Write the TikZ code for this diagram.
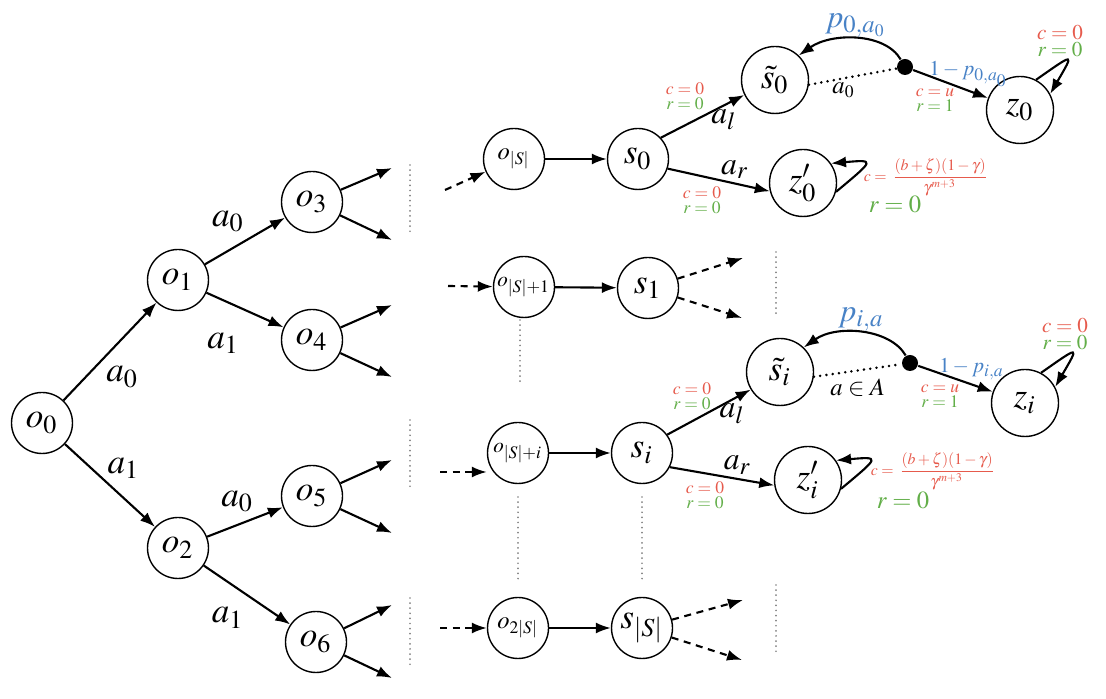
\documentclass[tikz,border=0pt]{standalone}
\usepackage{amsmath}
\usepackage{mathptmx}
\usetikzlibrary{arrows.meta}
\definecolor{cred}{RGB}{230,90,76}
\definecolor{cgreen}{RGB}{98,174,72}
\definecolor{cblue}{RGB}{72,130,198}
\begin{document}
\begin{tikzpicture}[
        >={Latex[length=1.5mm,width=1.1mm]},
        state/.style={circle,draw,thin,minimum size=0.61cm,inner sep=0pt},
        bigstate/.style={circle,draw,thin,minimum size=0.67cm,inner sep=0pt},
        arr/.style={->,semithick},
        dasharr/.style={->,semithick,dash pattern=on 2pt off 1.6pt},
        actline/.style={thick,line cap=round,dash pattern=on 0pt off 1.8pt},
        vdots/.style={gray,line width=0.55pt,line cap=round,dash pattern=on 0pt off 1.45pt},
        dot/.style={circle,fill,inner sep=0pt,minimum size=0.16cm},
        lbl/.style={inner sep=1pt},
        cr/.style={inner sep=0pt,align=center,font=\fontsize{5}{4.2}\selectfont},
        crz/.style={inner sep=0pt,align=center,font=\fontsize{6}{4.9}\selectfont},
        frac/.style={inner sep=0pt,text=cred,font=\fontsize{4.5}{5}\selectfont}
    ]
    \useasboundingbox (0,0) rectangle (11.06,6.99);
    % Tree o_0 ... o_6
    \draw (0.42,2.76) node[state] (o0) {$o_0$};
    \draw (1.78,4.19) node[state] (o1) {$o_1$};
    \draw (1.78,1.51) node[state] (o2) {$o_2$};
    \draw (3.12,4.97) node[state] (o3) {$o_3$};
    \draw (3.12,3.59) node[state] (o4) {$o_4$};
    \draw (3.12,2.03) node[state] (o5) {$o_5$};
    \draw (3.16,0.57) node[state] (o6) {$o_6$};
    \draw [arr] (o0) -- node [lbl,pos=0.24,right=0.16cm] (e01) {$a_0$} (o1);
    \draw [arr] (o0) -- node [lbl,pos=0.29,right=0.12cm] (e02) {$a_1$} (o2);
    \draw [arr] (o1) -- node [lbl,pos=0.29,above=0.14cm] (e13) {$a_0$} (o3);
    \draw [arr] (o1) -- node [lbl,pos=0.22,below=0.28cm] (e14) {$a_1$} (o4);
    \draw [arr] (o2) -- node [lbl,pos=0.40,above=0.08cm] (e25) {$a_0$} (o5);
    \draw [arr] (o2) -- node [lbl,pos=0.28,below=0.21cm] (e26) {$a_1$} (o6);
    % open branches
    \coordinate (o3u) at (3.92,5.31);
    \coordinate (o3d) at (3.92,4.59);
    \coordinate (o4u) at (3.92,3.94);
    \coordinate (o4d) at (3.92,3.22);
    \coordinate (o5u) at (3.92,2.39);
    \coordinate (o5d) at (3.92,1.66);
    \coordinate (o6u) at (3.92,0.94);
    \coordinate (o6d) at (3.92,0.21);
    \draw [arr] (o3) -- (o3u);
    \draw [arr] (o3) -- (o3d);
    \draw [arr] (o4) -- (o4u);
    \draw [arr] (o4) -- (o4d);
    \draw [arr] (o5) -- (o5u);
    \draw [arr] (o5) -- (o5d);
    \draw [arr] (o6) -- (o6u);
    \draw [arr] (o6) -- (o6d);
    \draw [vdots] (4.10,5.34) -- (4.10,4.66);
    \draw [vdots] (4.10,2.79) -- (4.10,2.09);
    \draw [vdots] (4.10,1.01) -- (4.10,0.31);
    % Chains o_{|S|+i} -> s_i
    \draw (5.14,5.40) node[state,font=\scriptsize] (oS) {$o_{|S|}$};
    \draw (6.38,5.40) node[state] (s0) {$s_0$};
    \draw (5.24,4.12) node[state,font=\fontsize{6}{7}\selectfont] (oS1) {$o_{|S|+1}$};
    \draw (6.48,4.11) node[state] (s1) {$s_1$};
    \draw (5.18,2.46) node[state,font=\fontsize{6}{7}\selectfont] (oSi) {$o_{|S|+i}$};
    \draw (6.42,2.46) node[state] (si) {$s_i$};
    \draw (5.18,0.71) node[state,font=\scriptsize] (o2S) {$o_{2|S|}$};
    \draw (6.42,0.71) node[state] (sS) {$s_{|S|}$};
    \draw [arr] (oS) -- (s0);
    \draw [arr] (oS1) -- (s1);
    \draw [arr] (oSi) -- (si);
    \draw [arr] (o2S) -- (sS);
    \coordinate (inS) at (4.45,5.09);
    \coordinate (inS1) at (4.48,4.13);
    \coordinate (inSi) at (4.40,2.27);
    \coordinate (in2S) at (4.40,0.71);
    \draw [dasharr] (inS) -- (oS);
    \draw [dasharr] (inS1) -- (oS1);
    \draw [dasharr] (inSi) -- (inSi -| oSi.west);
    \draw [dasharr] (in2S) -- (o2S);
    \coordinate (s1u) at (7.43,4.41);
    \coordinate (s1d) at (7.42,3.81);
    \coordinate (sSu) at (7.43,0.99);
    \coordinate (sSd) at (7.42,0.39);
    \draw [dasharr] (s1) -- (s1u);
    \draw [dasharr] (s1) -- (s1d);
    \draw [dasharr] (sS) -- (sSu);
    \draw [dasharr] (sS) -- (sSd);
    \draw [vdots] (7.76,4.47) -- (7.76,3.82);
    \draw [vdots] (7.76,1.14) -- (7.76,0.47);
    \draw [vdots] (5.20,3.79) -- (5.20,3.14);
    \draw [vdots] (5.18,2.02) -- (5.18,1.16);
    \draw [vdots] (6.42,2.02) -- (6.42,1.16);
    % Gadget of s_0
    \draw (7.75,6.19) node[bigstate] (s0t) {$\tilde{s}_0$};
    \draw (10.20,5.89) node[bigstate] (z0) {$z_0$};
    \draw (8.03,5.16) node[bigstate] (z0p) {$z'_0$};
    \node [dot] (d0) at (9.05,6.32) {};
    \draw [arr] (s0.43) -- node [lbl,pos=0.76,below,font=\small] (al0) {$a_l$} (s0t.206);
    \draw [arr] (s0.-18) -- node [lbl,pos=0.66,above,font=\small] (ar0) {$a_r$} (z0p.194);
    \draw [actline] (s0t.-8) -- node [lbl,pos=0.4,below,font=\scriptsize] (act0) {$a_0$} (d0);
    \draw [arr] (d0) .. controls +(120:0.4) and +(35:0.4) .. node [lbl,above=-1pt,font=\small,text=cblue] (p0) {$p_{0,a_0}$} (s0t.46);
    \draw [arr] (d0) -- node [lbl,pos=0.75,above,font=\fontsize{6}{7}\selectfont,text=cblue] (q0) {$1-p_{0,a_0}$} (z0);
    \draw [arr] (z0.62) .. controls +(35:0.48) and +(60:0.48) .. (z0.28);
    \draw [arr] (z0p.-15) .. controls +(40:0.5) and +(5:0.45) .. (z0p.35);
    \node [cr] (cl0) at (6.85,6.03) {\textcolor{cred}{$c=0$}\\\textcolor{cgreen}{$r=0$}};
    \node [cr] (cr0) at (7.02,4.99) {\textcolor{cred}{$c=0$}\\\textcolor{cgreen}{$r=0$}};
    \node [cr] (cu0) at (9.35,5.99) {\textcolor{cred}{$c=u$}\\\textcolor{cgreen}{$r=1$}};
    \node [crz] (cz0) at (10.60,6.58) {\textcolor{cred}{$c=0$}\\\textcolor{cgreen}{$r=0$}};
    \node [frac] (cf0) at (9.27,5.22) {$c=\dfrac{(b+\zeta)(1-\gamma)}{\gamma^{m+3}}$};
    \node [inner sep=0pt,font=\scriptsize,text=cgreen] (rf0) at (8.95,4.95) {$r=0$};
    % Gadget of s_i
    \draw (7.80,3.27) node[bigstate] (sit) {$\tilde{s}_i$};
    \draw (10.25,2.96) node[bigstate] (zi) {$z_i$};
    \draw (8.08,2.19) node[bigstate] (zip) {$z'_i$};
    \node [dot] (di) at (9.10,3.36) {};
    \draw [arr] (si.36) -- node [lbl,pos=0.78,below,font=\small] (ali) {$a_l$} (sit.211);
    \draw [arr] (si.-27) -- node [lbl,pos=0.65,above,font=\small] (ari) {$a_r$} (zip.189);
    \draw [actline] (sit.-8) -- node [lbl,pos=0.5,below=1pt,font=\scriptsize] (acti) {$a\in A$} (di);
    \draw [arr] (di) .. controls +(120:0.4) and +(35:0.4) .. node [lbl,above=-1pt,font=\small,text=cblue] (pi) {$p_{i,a}$} (sit.46);
    \draw [arr] (di) -- node [lbl,pos=0.72,above,font=\fontsize{6}{7}\selectfont,text=cblue] (qi) {$1-p_{i,a}$} (zi);
    \draw [arr] (zi.62) .. controls +(35:0.48) and +(60:0.48) .. (zi.28);
    \draw [arr] (zip.-15) .. controls +(40:0.5) and +(5:0.45) .. (zip.35);
    \node [cr] (cli) at (6.92,3.03) {\textcolor{cred}{$c=0$}\\\textcolor{cgreen}{$r=0$}};
    \node [cr] (cri) at (7.05,2.04) {\textcolor{cred}{$c=0$}\\\textcolor{cgreen}{$r=0$}};
    \node [cr] (cui) at (9.40,3.03) {\textcolor{cred}{$c=u$}\\\textcolor{cgreen}{$r=1$}};
    \node [crz] (czi) at (10.65,3.65) {\textcolor{cred}{$c=0$}\\\textcolor{cgreen}{$r=0$}};
    \node [frac] (cfi) at (9.34,2.28) {$c=\dfrac{(b+\zeta)(1-\gamma)}{\gamma^{m+3}}$};
    \node [inner sep=0pt,font=\scriptsize,text=cgreen] (rfi) at (9.03,1.99) {$r=0$};
\end{tikzpicture}
\end{document}
